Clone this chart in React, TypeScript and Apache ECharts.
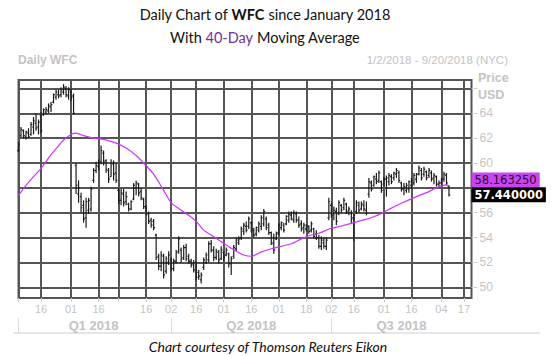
import React, { useEffect, useRef } from 'react';
import * as echarts from 'echarts';

// ---------- calendar / categories ----------
const FIRST_DAY = '2018-01-02';
const LAST_DAY = '2018-09-20';
const HOLIDAYS = ['2018-01-15', '2018-02-19', '2018-03-30', '2018-05-28', '2018-07-04', '2018-09-03'];
const LABEL_DATES = [
  '2018-01-16', '2018-02-01', '2018-02-16', '2018-03-16', '2018-04-02', '2018-04-16', '2018-05-01',
  '2018-05-16', '2018-06-01', '2018-06-18', '2018-07-02', '2018-07-16', '2018-08-01', '2018-08-16',
  '2018-09-04', '2018-09-17',
];
const UNLABELLED_GRID_DATES = ['2018-01-02', '2018-03-01'];
const QUARTERS = [
  { start: '2018-01-02', end: '2018-04-02', label: 'Q1 2018' },
  { start: '2018-04-02', end: '2018-07-02', label: 'Q2 2018' },
  { start: '2018-07-02', end: '2018-09-20', label: 'Q3 2018' },
];
const PRICE_TICKS = [50, 52, 54, 56, 58, 60, 62, 64, 66];
const PRICE_LABELS = [50, 52, 54, 56, 60, 62, 64];

// ---------- daily WFC OHLC ----------
const opens = [
  61.0, 62.2, 62.6, 62.1, 62.4, 62.3, 62.9, 63.2, 62.9, 63.8,
  63.9, 64.1, 64.2, 64.5, 64.9, 65.3, 65.5, 65.5, 65.7, 66.0,
  65.4, 65.7, 65.4, 59.8, 57.5, 57.3, 56.6, 55.6, 56.2, 56.3,
  58.6, 59.4, 59.7, 60.1, 60.8, 60.2, 59.4, 58.9, 59.9, 59.2,
  57.8, 57.0, 57.5, 56.9, 56.7, 56.3, 57.1, 58.0, 58.3, 57.7,
  57.1, 56.4, 55.9, 55.4, 55.3, 54.2, 52.5, 51.7, 52.5, 51.3,
  52.0, 52.2, 51.5, 52.1, 52.9, 53.0, 52.4, 53.2, 52.5, 52.1,
  51.9, 52.0, 51.2, 50.6, 51.6, 52.0, 52.2, 53.5, 53.0, 52.4,
  52.8, 52.3, 52.8, 52.6, 52.7, 51.9, 52.5, 53.1, 53.6, 54.0,
  54.5, 54.9, 54.9, 55.2, 54.6, 54.3, 54.6, 54.9, 55.1, 55.5,
  55.0, 54.4, 53.5, 53.9, 54.4, 54.8, 55.0, 55.1, 55.4, 55.8,
  55.4, 55.9, 55.4, 55.1, 54.8, 54.7, 54.9, 54.6, 54.7, 54.3,
  54.0, 53.3, 53.6, 53.3, 55.6, 56.6, 55.9, 56.1, 55.9, 56.6,
  56.4, 56.7, 56.2, 56.0, 55.5, 56.1, 56.6, 56.3, 56.6, 56.2,
  57.5, 58.4, 58.2, 58.7, 58.6, 58.5, 58.3, 58.7, 58.5, 58.9,
  58.8, 59.1, 59.2, 58.4, 57.9, 57.8, 57.9, 58.2, 58.4, 58.7,
  59.1, 59.4, 59.1, 59.3, 59.0, 59.2, 58.8, 58.9, 58.3, 58.4,
  58.7, 59.0, 58.1,
];
const highs = [
  61.7, 62.9, 62.7, 62.6, 62.8, 63.3, 63.7, 64.0, 63.5, 64.1,
  64.4, 64.5, 64.8, 64.9, 65.6, 65.9, 65.9, 66.1, 66.35, 66.2,
  66.1, 66.0, 65.6, 60.0, 58.6, 57.6, 57.0, 57.2, 57.2, 58.1,
  59.6, 60.1, 60.3, 61.4, 61.0, 60.3, 59.6, 60.3, 60.2, 60.0,
  58.0, 57.9, 57.9, 57.7, 56.8, 57.0, 58.4, 58.6, 58.4, 58.0,
  57.2, 56.6, 56.1, 55.6, 55.5, 54.3, 52.7, 52.9, 52.7, 52.5,
  52.9, 52.4, 52.3, 53.0, 54.1, 53.2, 53.4, 53.5, 52.7, 52.3,
  52.2, 52.1, 51.4, 51.2, 52.4, 52.8, 53.7, 53.8, 53.3, 53.1,
  53.0, 53.3, 52.9, 53.2, 52.8, 52.5, 53.4, 54.0, 54.1, 54.9,
  55.2, 55.3, 55.7, 55.3, 54.8, 54.9, 55.3, 55.8, 56.3, 55.7,
  55.2, 54.5, 54.3, 54.5, 55.2, 55.3, 55.2, 55.8, 56.1, 56.1,
  56.2, 56.1, 55.7, 55.4, 55.2, 55.1, 55.0, 55.3, 54.8, 54.6,
  54.2, 54.1, 54.0, 54.0, 57.2, 56.8, 56.5, 56.4, 57.0, 56.7,
  57.2, 56.8, 56.5, 56.2, 55.9, 57.0, 56.9, 56.9, 57.0, 56.9,
  58.8, 58.6, 59.0, 59.2, 59.4, 58.6, 58.9, 59.0, 59.2, 59.1,
  59.3, 59.6, 59.4, 58.5, 58.4, 58.4, 58.6, 58.8, 59.2, 59.2,
  59.8, 59.6, 59.7, 59.4, 59.6, 59.4, 59.2, 59.0, 58.6, 58.8,
  59.3, 59.2, 58.2,
];
const lows = [
  60.9, 62.1, 62.0, 61.9, 62.0, 62.2, 62.3, 62.6, 62.3, 62.4,
  63.8, 63.9, 64.0, 64.1, 64.8, 65.1, 65.2, 65.3, 65.5, 65.3,
  65.1, 65.0, 63.9, 57.5, 56.8, 56.0, 55.2, 54.8, 55.9, 56.1,
  58.4, 59.2, 59.4, 59.9, 59.8, 59.2, 58.4, 58.9, 58.6, 58.4,
  56.7, 56.6, 56.5, 56.6, 56.1, 56.2, 57.0, 57.4, 57.3, 57.0,
  56.3, 55.8, 55.1, 54.8, 54.6, 52.2, 51.4, 51.3, 50.7, 51.1,
  51.8, 51.3, 51.3, 51.9, 52.7, 52.0, 52.2, 52.1, 51.9, 51.6,
  51.2, 50.6, 50.6, 50.3, 51.4, 51.9, 52.0, 52.8, 52.1, 52.2,
  51.9, 52.2, 52.1, 52.5, 51.6, 51.0, 52.3, 52.9, 53.4, 53.8,
  54.2, 54.4, 54.7, 54.4, 54.0, 54.1, 54.4, 54.6, 54.9, 54.6,
  54.2, 53.4, 52.7, 53.8, 54.2, 54.6, 54.4, 55.0, 55.2, 55.4,
  55.2, 55.2, 54.8, 54.5, 54.3, 54.5, 54.3, 54.4, 53.9, 53.8,
  53.1, 53.0, 53.1, 53.0, 55.4, 55.6, 55.4, 55.0, 55.8, 56.0,
  56.2, 55.9, 55.8, 55.1, 53.7, 55.9, 56.0, 56.2, 56.1, 55.8,
  57.2, 57.7, 58.1, 58.3, 58.4, 57.6, 58.2, 57.3, 58.2, 58.3,
  58.6, 58.8, 58.4, 57.7, 57.4, 57.6, 57.6, 57.9, 58.2, 58.4,
  59.0, 58.6, 58.9, 58.6, 58.8, 58.5, 58.3, 58.1, 58.1, 58.2,
  58.5, 58.2, 57.3,
];
const closes = [
  61.5, 62.7, 62.2, 62.5, 62.1, 63.1, 63.4, 62.8, 63.3, 62.6,
  64.3, 64.3, 64.6, 64.7, 65.5, 65.7, 65.4, 65.9, 66.1, 65.5,
  65.9, 65.3, 64.0, 58.2, 58.0, 56.4, 55.5, 56.9, 57.0, 57.9,
  59.4, 59.8, 60.0, 61.0, 60.1, 59.5, 58.7, 60.0, 59.1, 58.6,
  57.0, 57.6, 56.8, 57.3, 56.3, 56.9, 58.2, 58.4, 57.6, 57.2,
  56.5, 55.9, 55.3, 55.0, 54.8, 52.4, 51.7, 52.6, 51.0, 52.3,
  52.6, 51.5, 52.1, 52.8, 53.9, 52.3, 53.2, 52.3, 52.1, 51.8,
  51.4, 50.8, 50.9, 51.0, 52.2, 52.6, 53.5, 53.0, 52.4, 52.9,
  52.2, 53.0, 52.4, 53.0, 51.9, 52.3, 53.2, 53.8, 53.9, 54.7,
  55.0, 54.6, 55.5, 54.6, 54.2, 54.8, 55.1, 55.6, 56.1, 54.8,
  54.4, 53.6, 53.0, 54.3, 55.0, 55.2, 54.6, 55.7, 55.9, 55.5,
  56.0, 55.4, 55.0, 54.7, 55.0, 54.9, 54.5, 55.1, 54.1, 54.0,
  53.3, 53.8, 53.3, 53.8, 56.9, 55.8, 56.2, 55.3, 56.8, 56.2,
  57.0, 56.1, 56.3, 55.6, 55.8, 56.8, 56.2, 56.7, 56.3, 56.0,
  58.5, 57.9, 58.9, 58.5, 59.2, 57.8, 58.7, 58.8, 59.0, 58.5,
  59.2, 59.4, 58.6, 57.9, 58.1, 58.2, 58.5, 58.6, 59.0, 59.1,
  59.6, 58.8, 59.5, 58.8, 59.4, 58.7, 59.0, 58.3, 58.4, 58.7,
  59.1, 58.4, 57.44,
];

// 40-day moving average, read at [trading-day index, value]
const movingAverage = [
  [0, 57.4], [3, 58.2], [6, 58.9], [9, 59.55], [12, 60.4], [15, 61.15], [18, 61.85], [21, 62.3],
  [23, 62.4], [26, 62.2], [30, 62.0], [34, 61.9], [39, 61.6], [43, 61.2], [47, 60.6], [50, 60.0],
  [54, 59.1], [58, 57.8], [61, 56.8], [64, 56.35], [68, 55.8], [71, 55.3], [74, 54.6], [77, 54.2],
  [80, 53.8], [83, 53.4], [87, 52.9], [90, 52.6], [93, 52.5], [97, 52.85], [101, 53.1], [105, 53.3],
  [109, 53.5], [113, 53.9], [116, 54.15], [120, 54.35], [125, 54.75], [129, 54.93], [133, 55.15],
  [138, 55.42], [142, 55.68], [145, 55.95], [148, 56.27], [153, 56.76], [159, 57.3], [164, 57.7],
  [168, 58.1], [171, 58.24], [172, 58.16],
];
const LAST_MA = 58.16325;
const LAST_CLOSE = 57.44;

// ---------- helpers ----------
function tradingDays(): string[] {
  const out: string[] = [];
  const d = new Date(FIRST_DAY + 'T00:00:00Z');
  const end = new Date(LAST_DAY + 'T00:00:00Z').getTime();
  while (d.getTime() <= end) {
    const dow = d.getUTCDay();
    const s = d.toISOString().slice(0, 10);
    if (dow !== 0 && dow !== 6 && HOLIDAYS.indexOf(s) < 0) out.push(s);
    d.setUTCDate(d.getUTCDate() + 1);
  }
  return out;
}

const GRAY_TEXT = '#c3c3c3';
const GRID_COLOR = '#555555';
const UI_FONT = '"Liberation Sans", Arial, sans-serif';
const TITLE_FONT = 'Lato, "Open Sans", sans-serif';
const BOX_FONT = '"DejaVu Sans", Verdana, sans-serif';

export default function App() {
  const ref = useRef<HTMLDivElement>(null);

  useEffect(() => {
    if (!ref.current) return;
    const chart = echarts.init(ref.current, undefined, { renderer: 'svg' });
    const days = tradingDays();
    const labelSet = new Set(LABEL_DATES);
    const gridSet = new Set([...LABEL_DATES, ...UNLABELLED_GRID_DATES]);
    const quarterStarts = new Set(QUARTERS.map((q) => q.start));
    const quarterMid: Record<string, string> = {};
    QUARTERS.forEach((q) => {
      const a = days.indexOf(q.start);
      let b = days.indexOf(q.end);
      if (b < 0) b = days.length - 1;
      quarterMid[days[Math.floor((a + b) / 2)]] = q.label;
    });

    const ohlc = opens.map((o, i) => [i, o, highs[i], lows[i], closes[i]]);

    chart.setOption({
      animation: false,
      textStyle: { fontFamily: UI_FONT },
      grid: {
        left: 18.5, right: 84.5, top: 80, bottom: 58,
        show: true, borderColor: GRID_COLOR, borderWidth: 2, backgroundColor: 'transparent',
      },
      xAxis: [
        {
          type: 'category', data: days, boundaryGap: false, position: 'bottom',
          axisLine: { show: false },
          axisTick: { show: true, length: 4, interval: (i: number, v: string) => gridSet.has(v), lineStyle: { color: '#d0d0d0', width: 1 } },
          axisLabel: {
            interval: (i: number, v: string) => labelSet.has(v),
            formatter: (v: string) => v.slice(8, 10),
            color: GRAY_TEXT, fontSize: 11, margin: 5, fontFamily: UI_FONT,
          },
          splitLine: { show: true, interval: (i: number, v: string) => gridSet.has(v), lineStyle: { color: GRID_COLOR, width: 2 } },
        },
        {
          type: 'category', data: days, boundaryGap: false, position: 'bottom', offset: 20,
          axisLine: { show: false },
          axisTick: { show: true, length: 15, interval: (i: number, v: string) => quarterStarts.has(v), lineStyle: { color: '#dcdcdc', width: 1 } },
          axisLabel: {
            interval: (i: number, v: string) => !!quarterMid[v],
            formatter: (v: string) => quarterMid[v] || '',
            color: GRAY_TEXT, fontSize: 13, fontWeight: 'bold', margin: 1, fontFamily: UI_FONT,
          },
          splitLine: { show: false },
        },
      ],
      yAxis: {
        type: 'value', position: 'right', min: 49.14, max: 66.68, scale: true,
        axisLine: { show: false },
        axisTick: { show: true, length: 6, customValues: PRICE_TICKS, lineStyle: { color: '#d0d0d0' } },
        axisLabel: { customValues: PRICE_LABELS, color: GRAY_TEXT, fontSize: 12, margin: 8, fontFamily: UI_FONT },
        splitLine: { show: true, lineStyle: { color: GRID_COLOR, width: 2 } },
      },
      series: [
        {
          type: 'custom', name: 'WFC', xAxisIndex: 0,
          encode: { x: 0, y: [1, 2, 3, 4] },
          data: ohlc,
          renderItem: (params: any, api: any) => {
            const i = api.value(0);
            const top = api.coord([i, api.value(2)]);
            const x = top[0];
            const yH = top[1];
            const yL = api.coord([i, api.value(3)])[1];
            const yO = api.coord([i, api.value(1)])[1];
            const yC = api.coord([i, api.value(4)])[1];
            const st = { stroke: '#1c1c1c', lineWidth: 1.2 };
            return {
              type: 'group',
              children: [
                { type: 'line', shape: { x1: x, y1: yH, x2: x, y2: yL }, style: st },
                { type: 'line', shape: { x1: x - 1.3, y1: yO, x2: x, y2: yO }, style: st },
                { type: 'line', shape: { x1: x, y1: yC, x2: x + 1.3, y2: yC }, style: st },
              ],
            };
          },
          z: 3,
        },
        {
          type: 'line', name: '40-Day MA', xAxisIndex: 0, data: movingAverage, showSymbol: false, symbol: 'none',
          clip: false,
          smooth: 0.2, lineStyle: { color: '#cc33ff', width: 1.2 }, z: 4,
          markLine: {
            silent: true, symbol: ['none', 'none'], animation: false,
            lineStyle: { color: 'rgba(0,0,0,0)', width: 0 },
            data: [
              {
                yAxis: LAST_MA,
                label: {
                  show: true, position: 'end', distance: 0, offset: [0, -6],
                  formatter: LAST_MA.toFixed(6), color: '#2a0a30', backgroundColor: '#c845f0',
                  fontFamily: BOX_FONT, fontSize: 11.5, lineHeight: 12, padding: [2, 3, 1, 3],
                },
              },
              {
                yAxis: LAST_CLOSE,
                label: {
                  show: true, position: 'end', distance: 0,
                  formatter: LAST_CLOSE.toFixed(6), color: '#ffffff', backgroundColor: '#000000',
                  fontFamily: BOX_FONT, fontSize: 11.5, lineHeight: 12, fontWeight: 'bold', padding: [2, 3, 1, 3],
                },
              },
            ],
          },
        },
      ],
      graphic: [
        {
          type: 'text', x: 265, y: 14,
          style: {
            text: '{a|Daily Chart of }{b|WFC}{a| since January 2018}',
            align: 'center', verticalAlign: 'middle',
            rich: {
              a: { fontFamily: TITLE_FONT, fontSize: 14.5, fill: '#111' },
              b: { fontFamily: TITLE_FONT, fontSize: 14.5, fontWeight: 'bold', fill: '#111' },
            },
          },
        },
        {
          type: 'text', x: 265, y: 37,
          style: {
            text: '{a|With }{p|40-Day}{a| Moving Average}',
            align: 'center', verticalAlign: 'middle',
            rich: {
              a: { fontFamily: TITLE_FONT, fontSize: 14.5, fill: '#111' },
              p: { fontFamily: TITLE_FONT, fontSize: 14.5, fill: '#7030a0' },
            },
          },
        },
        {
          type: 'text', x: 18, y: 60,
          style: { text: 'Daily WFC', fontFamily: UI_FONT, fontSize: 12, fontWeight: 'bold', fill: GRAY_TEXT, verticalAlign: 'middle' },
        },
        {
          type: 'text', x: 508, y: 60,
          style: { text: '1/2/2018 - 9/20/2018 (NYC)', fontFamily: UI_FONT, fontSize: 11.5, fill: GRAY_TEXT, align: 'right', verticalAlign: 'middle' },
        },
        {
          type: 'text', x: 478, y: 78,
          style: { text: 'Price', fontFamily: UI_FONT, fontSize: 12.5, fontWeight: 'bold', fill: GRAY_TEXT, verticalAlign: 'middle' },
        },
        {
          type: 'text', x: 478, y: 95,
          style: { text: 'USD', fontFamily: UI_FONT, fontSize: 12.5, fontWeight: 'bold', fill: GRAY_TEXT, verticalAlign: 'middle' },
        },
        {
          type: 'rect', shape: { x: 13, y: 332, width: 527, height: 2 }, style: { fill: '#e6e6e6' },
        },
        {
          type: 'text', x: 268, y: 346,
          style: { text: 'Chart courtesy of Thomson Reuters Eikon', fontFamily: TITLE_FONT, fontStyle: 'italic', fontSize: 14, fill: '#111', align: 'center', verticalAlign: 'middle' },
        },
      ],
    });
    return () => chart.dispose();
  }, []);

  return (
    <div
      ref={ref}
      style={{ position: 'fixed', left: 0, top: 0, width: 556, height: 356, background: '#ffffff' }}
    />
  );
}
